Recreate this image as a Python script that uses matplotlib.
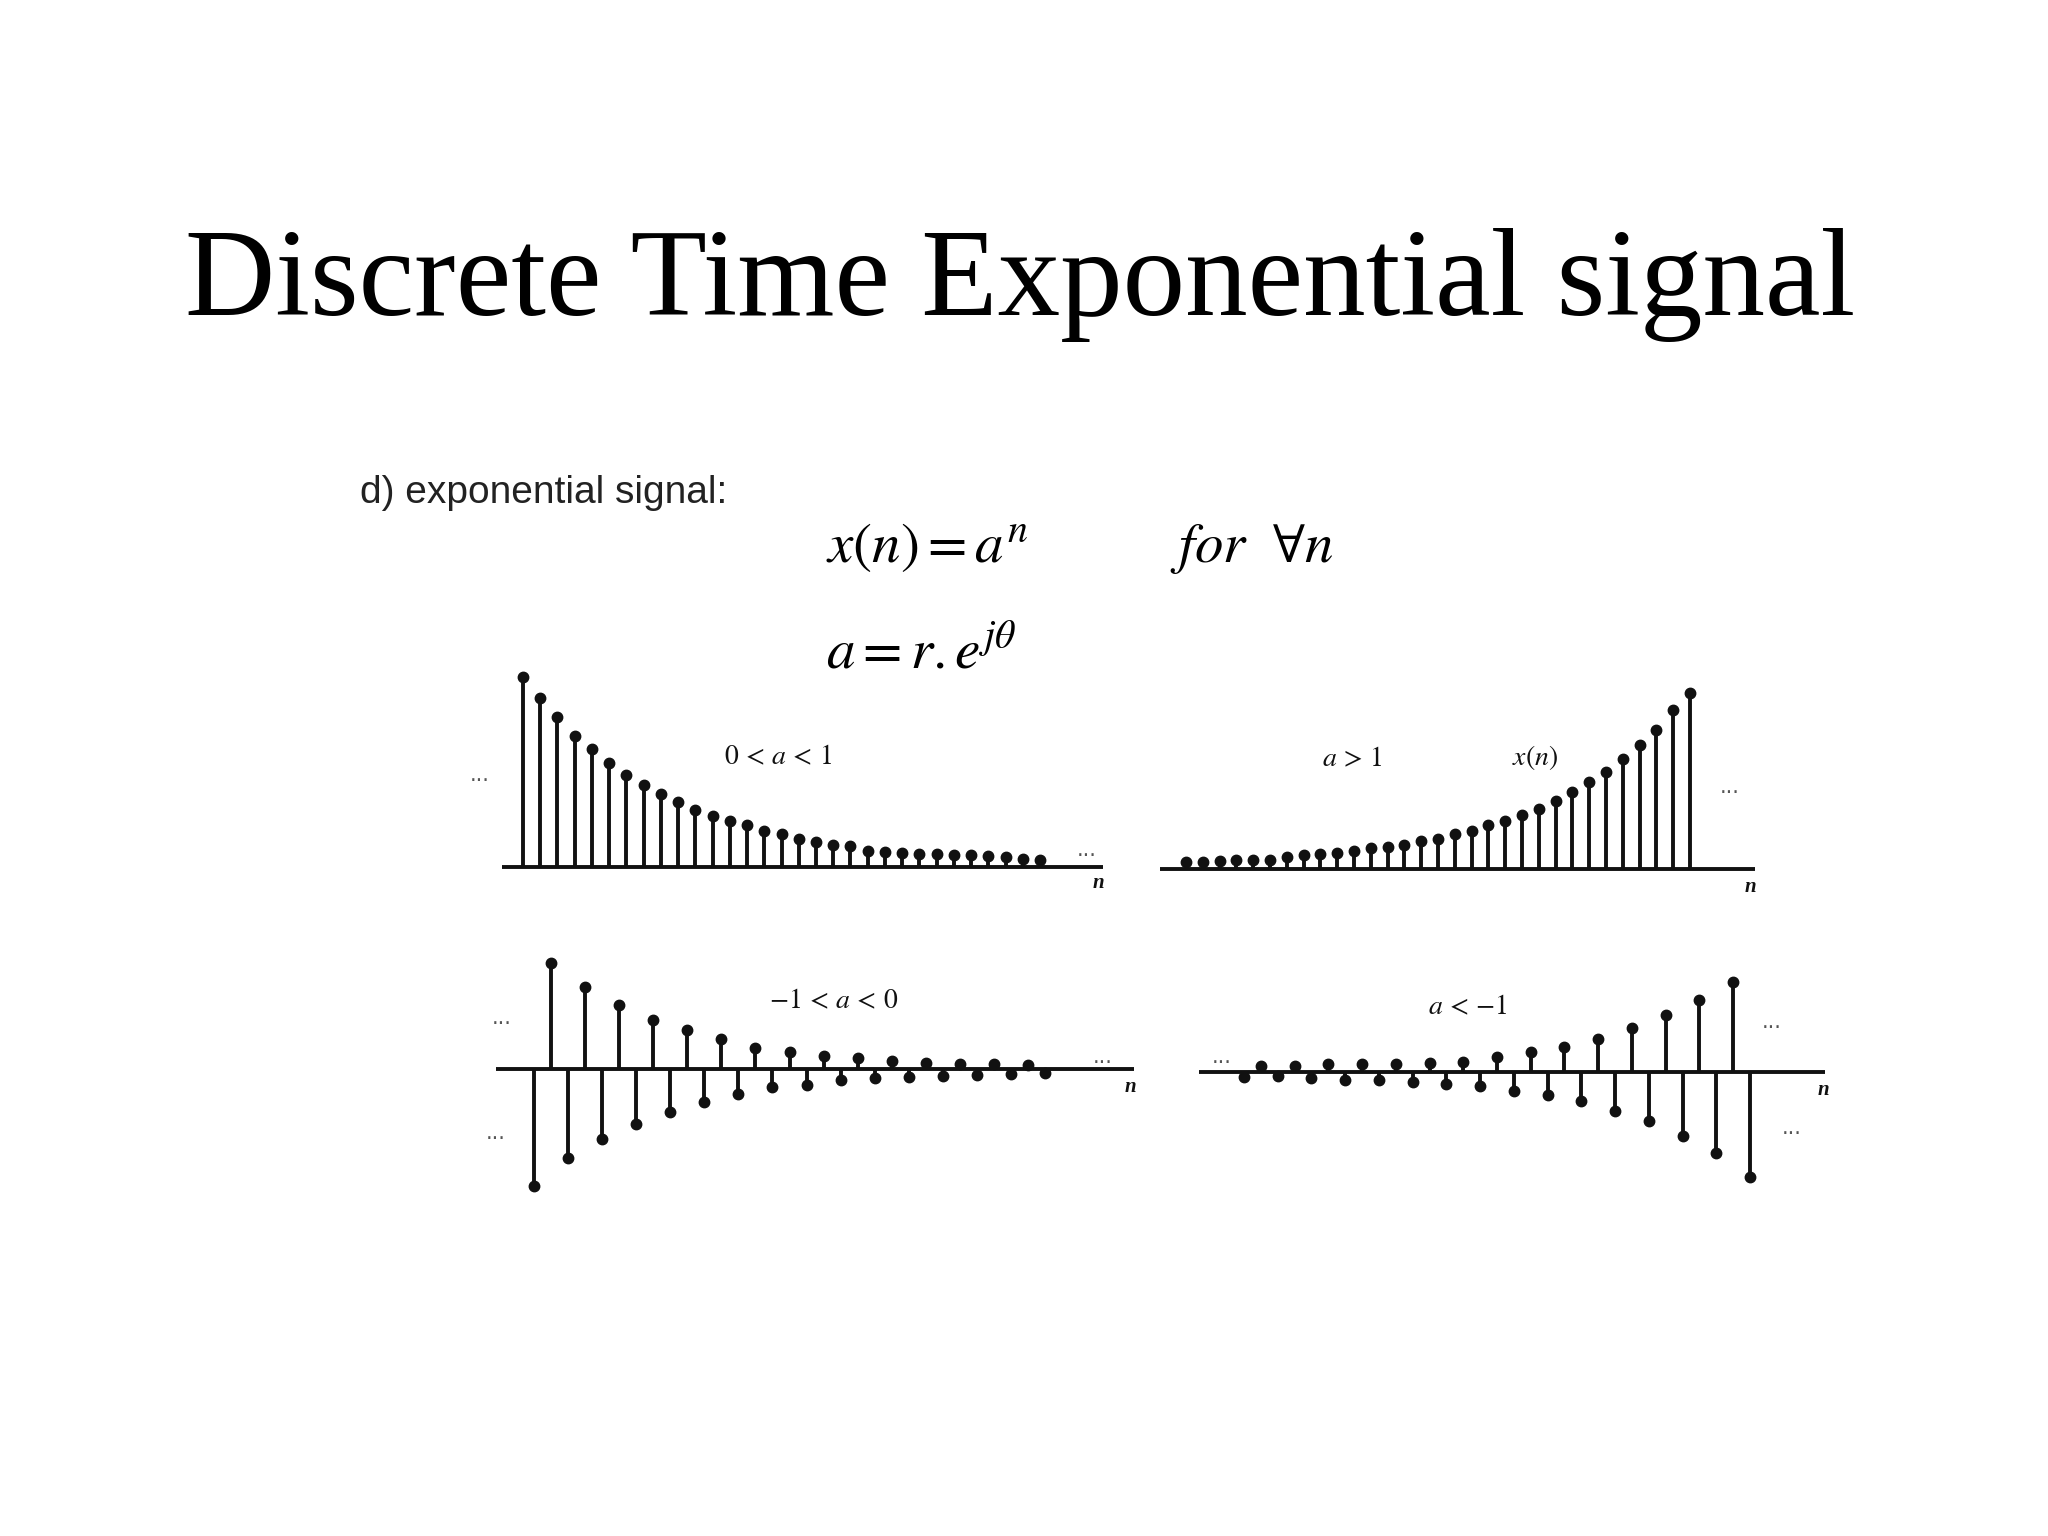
import numpy as np
import matplotlib
matplotlib.use('Agg')
import matplotlib.pyplot as plt

# tamaño de la imagen en pixeles
W, H = 2048, 1536

# valores (normalizados al maximo de cada panel)
n = np.arange(31)
decay_vals = [1.00, 0.89, 0.79, 0.69, 0.62, 0.545, 0.485, 0.43, 0.385, 0.34, 0.30,
              0.268, 0.244, 0.219, 0.187, 0.172, 0.148, 0.13, 0.118, 0.108, 0.086,
              0.08, 0.075, 0.07, 0.067, 0.063, 0.061, 0.056, 0.053, 0.044, 0.035]
growth_vals = [0.04, 0.04, 0.047, 0.051, 0.053, 0.053, 0.068, 0.078, 0.085, 0.091,
               0.10, 0.117, 0.127, 0.136, 0.159, 0.172, 0.20, 0.214, 0.252, 0.271,
               0.309, 0.343, 0.384, 0.436, 0.496, 0.553, 0.625, 0.705, 0.788, 0.902, 1.0]
alt_decay_vals = [-1.0, 0.909, -0.759, 0.699, -0.602, 0.548, -0.474, 0.415, -0.366,
                  0.33, -0.281, 0.256, -0.21, 0.179, -0.153, 0.142, -0.134, 0.108,
                  -0.097, 0.094, -0.077, 0.065, -0.068, 0.051, -0.063, 0.045, -0.048,
                  0.043, -0.043, 0.031, -0.034]
alt_growth_vals = [-0.048, 0.057, -0.041, 0.057, -0.054, 0.073, -0.073, 0.079, -0.079,
                   0.079, -0.095, 0.089, -0.117, 0.095, -0.137, 0.143, -0.181, 0.19,
                   -0.216, 0.238, -0.279, 0.317, -0.375, 0.419, -0.47, 0.54, -0.61,
                   0.683, -0.771, 0.857, -1.0]
panel_labels = [r'$0\,<\,a\,<\,1$', r'$a\,>\,1$', r'$-1\,<\,a\,<\,0$', r'$a\,<\,{-1}$']

plt.rcParams['mathtext.fontset'] = 'stix'

fig = plt.figure(figsize=(W / 100, H / 100), dpi=100)
fig.patch.set_facecolor('white')

INK = '#111111'


def ftext(x, y, s, **kw):
    fig.text(x / W, 1 - y / H, s, **kw)


def panel(vals, ax_x0, ax_x1, first_x, last_x, base_y, unit_px):
    d = (last_x - first_x) / (len(vals) - 1)
    y_bot = base_y + unit_px * max(0, -min(vals)) + 15
    y_top = base_y - unit_px * max(vals) - 15
    ax = fig.add_axes([ax_x0 / W, 1 - y_bot / H, (ax_x1 - ax_x0) / W, (y_bot - y_top) / H])
    ax.set_xlim(-(first_x - ax_x0) / d, len(vals) - 1 + (ax_x1 - last_x) / d)
    ax.set_ylim(-(y_bot - base_y) / unit_px, (base_y - y_top) / unit_px)
    ml, sl, bl = ax.stem(n, vals, linefmt='k-', markerfmt='ko', basefmt=' ')
    plt.setp(sl, linewidth=2.8, color=INK)
    plt.setp(ml, markersize=7.5, color=INK)
    ax.axhline(0, color=INK, linewidth=2.8)
    ax.axis('off')
    return ax


# titulo
ftext(1020, 315, 'Discrete Time Exponential signal', family='Liberation Serif',
      fontsize=90, ha='center', va='baseline')
ftext(360, 503, 'd) exponential signal:', family='Liberation Sans',
      fontsize=28, ha='left', va='baseline', color='#222222')

# formulas
ftext(826, 562, r'$x(n) = a^n$', fontsize=41, ha='left', va='baseline')
ftext(1170, 562, r'$for\ \ \forall n$', fontsize=41, ha='left', va='baseline')
ftext(826, 668, r'$a = r.e^{j\theta}$', fontsize=41, ha='left', va='baseline')

# paneles
panel(decay_vals, 502, 1103, 523, 1040, 867, 190)
panel(growth_vals, 1160, 1755, 1186, 1690, 869, 176)
panel(alt_decay_vals, 496, 1134, 534, 1045, 1069, 117)
panel(alt_growth_vals, 1199, 1825, 1244, 1750, 1072, 105)

# etiquetas de cada panel
lab_kw = dict(fontsize=20, ha='center', va='center', color=INK)
ftext(778, 756, panel_labels[0], **lab_kw)
ftext(1352, 758, panel_labels[1], **lab_kw)
ftext(1535, 758, r'$x(n)$', **lab_kw)
ftext(834, 1000, panel_labels[2], **lab_kw)
ftext(1468, 1006, panel_labels[3], **lab_kw)

# puntos suspensivos
dot_kw = dict(fontsize=15, ha='center', va='center', color='#555555')
for (x, y) in [(480, 775), (1087, 850), (1730, 787), (502, 1018), (496, 1133),
               (1103, 1057), (1222, 1057), (1772, 1022), (1792, 1128)]:
    ftext(x, y, '...', **dot_kw)

# etiqueta n de los ejes
for (x, y) in [(1098, 883), (1750, 887), (1130, 1087), (1823, 1090)]:
    ftext(x, y, 'n', family='Liberation Serif', fontstyle='italic', fontweight='bold',
          fontsize=15, ha='center', va='center', color=INK)

fig.savefig('out.png', dpi=100, facecolor='white')
